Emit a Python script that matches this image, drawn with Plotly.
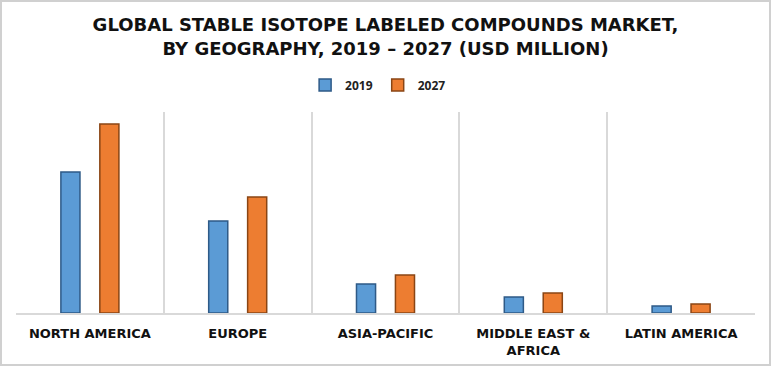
import plotly.graph_objects as go

categories = ["NORTH AMERICA", "EUROPE", "ASIA-PACIFIC", "MIDDLE EAST &<br>AFRICA", "LATIN AMERICA"]
series_names = ["2019", "2027"]
values_2019 = [141, 92, 29, 16, 7]
values_2027 = [189, 116, 38, 20, 9]

x_pos = list(range(len(categories)))
boundaries = [i - 0.5 for i in range(len(categories) + 1)]

fig = go.Figure()
fig.add_trace(go.Bar(
    x=x_pos, y=values_2019, name=series_names[0],
    marker=dict(color="#5B9BD5", line=dict(color="#2E5A87", width=1.5)),
))
fig.add_trace(go.Bar(
    x=x_pos, y=values_2027, name=series_names[1],
    marker=dict(color="#ED7D31", line=dict(color="#8A4514", width=1.5)),
))

fig.update_layout(
    width=771, height=366,
    margin=dict(l=16, r=16, t=112, b=53),
    paper_bgcolor="white", plot_bgcolor="white",
    barmode="group", bargap=0.473, bargroupgap=0.51,
    title=dict(
        text="<b>GLOBAL STABLE ISOTOPE LABELED COMPOUNDS MARKET,<br>BY GEOGRAPHY, 2019 – 2027 (USD MILLION)</b>",
        x=0.5, xanchor="center", y=0.915, yanchor="top",
        font=dict(family="DejaVu Sans", size=18, color="#111111"),
        automargin=False,
    ),
    legend=dict(
        orientation="h", x=0.49, xanchor="center", y=1.134, yanchor="middle",
        font=dict(family="Open Sans", size=12, color="#222222", weight="bold"),
        itemwidth=30, traceorder="normal",
    ),
    xaxis=dict(
        range=[-0.5, len(categories) - 0.5],
        tickmode="array", tickvals=x_pos, ticktext=["<b>%s</b>" % c for c in categories],
        tickfont=dict(family="DejaVu Sans", size=13, color="#111111"),
        showgrid=False, zeroline=False,
        showline=True, linecolor="#D9D9D9", linewidth=1.5,
        ticks="", ticklabelstandoff=8, automargin=False,
        minor=dict(tickvals=boundaries, showgrid=True, gridcolor="#D9D9D9", gridwidth=1.5, ticks=""),
        fixedrange=True,
    ),
    yaxis=dict(
        range=[0, 201], showgrid=False, zeroline=False, showticklabels=False,
        showline=False, fixedrange=True, automargin=False,
    ),
    shapes=[dict(
        type="rect", xref="paper", yref="paper",
        x0=-15/739, x1=1 + 15/739, y0=-52/201, y1=1 + 111/201,
        line=dict(color="#D0D0D0", width=2), fillcolor="rgba(0,0,0,0)", layer="below",
    )],
)

fig.write_html("out.html", config={"displayModeBar": False},
               post_script="document.body.style.margin='0';")
